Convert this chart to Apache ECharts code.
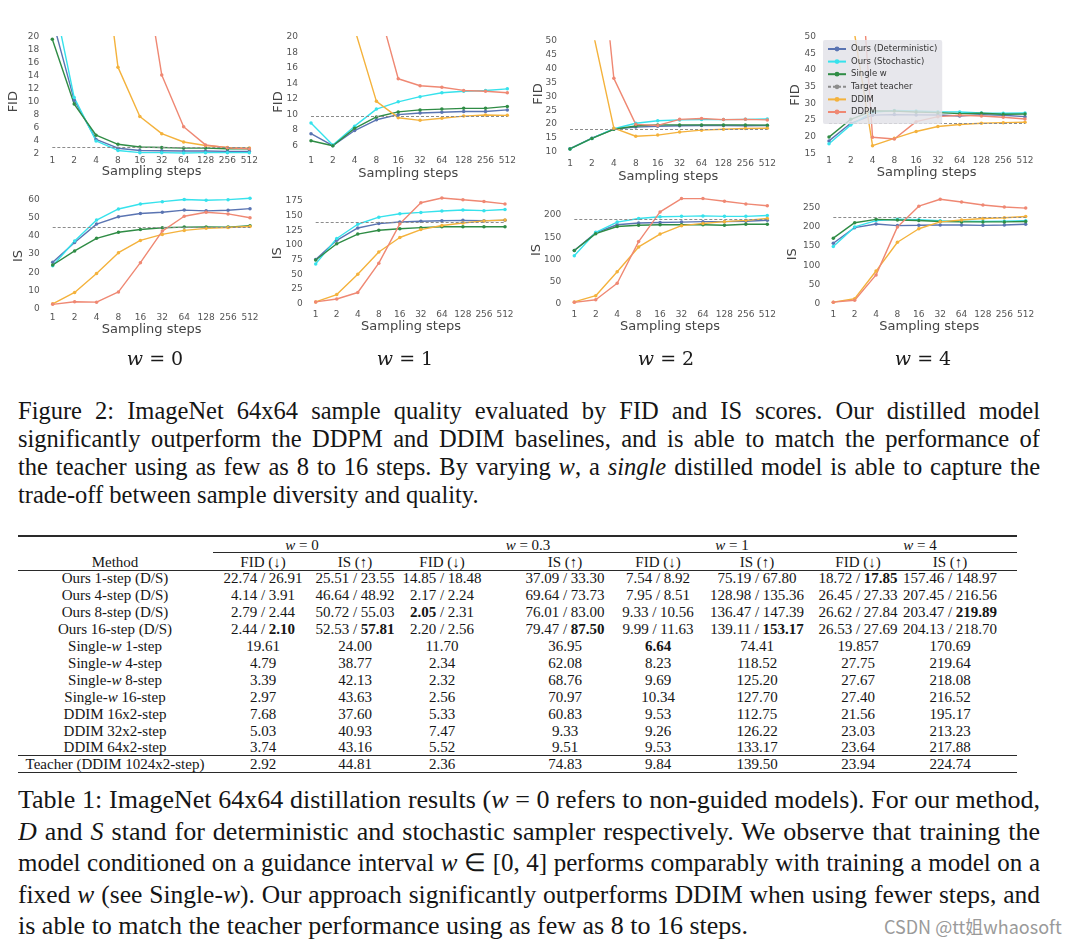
<!DOCTYPE html>
<html><head><meta charset="utf-8">
<script src="https://cdn.jsdelivr.net/npm/echarts@6/dist/echarts.min.js"></script>
<style>
html,body{margin:0;padding:0;background:#fff;}
body{width:1079px;height:948px;position:relative;overflow:hidden;font-family:"Liberation Serif","Times New Roman",serif;color:#151515;}
#chart{position:absolute;left:0;top:0;width:1079px;height:380px;}
.wlab{position:absolute;font-family:"DejaVu Serif",serif;font-size:19px;transform:translate(-50%,-50%);white-space:nowrap;color:#1a1a1a;}
.cap{position:absolute;left:18px;width:1022px;}
.cap div{text-align:justify;text-align-last:justify;overflow:hidden;}
.cap div.last{text-align-last:left;}
.tc{position:absolute;transform:translate(-50%,-50%);white-space:nowrap;font-size:15px;line-height:16px;}
.rule{position:absolute;background:#2a2a2a;}
.wm{position:absolute;font-family:"Noto Sans CJK SC","Noto Sans",sans-serif;font-size:18px;color:#9a9a9a;white-space:nowrap;transform:translateY(-50%);}
</style>
</head><body>
<div id="chart"></div>
<div id="wlabels"></div>
<div class="cap" id="cap1" style="top:397px;font-size:24.5px;line-height:28px;">
<div>Figure 2: ImageNet 64x64 sample quality evaluated by FID and IS scores. Our distilled model</div>
<div>significantly outperform the DDPM and DDIM baselines, and is able to match the performance of</div>
<div>the teacher using as few as 8 to 16 steps. By varying <i>w</i>, a <i>single</i> distilled model is able to capture the</div>
<div class="last">trade-off between sample diversity and quality.</div>
</div>
<div id="table"></div>
<div class="cap" id="cap2" style="top:784px;font-size:26px;line-height:31.5px;">
<div>Table 1: ImageNet 64x64 distillation results (<i>w</i> = 0 refers to non-guided models). For our method,</div>
<div><i>D</i> and <i>S</i> stand for deterministic and stochastic sampler respectively. We observe that training the</div>
<div>model conditioned on a guidance interval <i>w</i> ∈ [0, 4] performs comparably with training a model on a</div>
<div>fixed <i>w</i> (see Single-<i>w</i>). Our approach significantly outperforms DDIM when using fewer steps, and</div>
<div class="last">is able to match the teacher performance using as few as 8 to 16 steps.</div>
</div>
<div class="wm" style="left:884px;top:926px;">CSDN @tt姐whaosoft</div>
<script>
// ---------------- data ----------------
const steps = ['1','2','4','8','16','32','64','128','256','512'];
const seriesNames = ['Ours (Deterministic)','Ours (Stochastic)','Single w','Target teacher','DDIM','DDPM'];
const panelTitles = ['w = 0','w = 1','w = 2','w = 4'];

// FID, w = 0
const fidW0Det    = [22.74, 10.2, 4.14, 2.79, 2.44, 2.40, 2.35, 2.35, 2.30, 2.30];
const fidW0Sto    = [26.91, 10.6, 3.91, 2.44, 2.10, 2.10, 2.05, 2.10, 2.10, 2.10];
const fidW0Single = [19.61, 9.6, 4.79, 3.39, 2.97, 2.90, 2.80, 2.80, 2.70, 2.70];
const fidW0Ddim   = [260, 120, 42, 15.3, 7.68, 5.03, 3.74, 3.20, 2.90, 2.80];
const fidW0Ddpm   = [300, 250, 150, 80, 35, 14.1, 6.1, 3.3, 2.85, 2.7];
// FID, w = 1
const fidW1Det    = [7.54, 6.0, 7.95, 9.33, 9.99, 10.2, 10.3, 10.4, 10.4, 10.6];
const fidW1Sto    = [8.92, 6.1, 8.51, 10.7, 11.63, 12.3, 12.8, 13.0, 13.1, 13.3];
const fidW1Single = [6.64, 6.0, 8.23, 9.69, 10.34, 10.6, 10.7, 10.8, 10.8, 11.05];
const fidW1Ddim   = [150, 60, 21, 11.7, 9.6, 9.26, 9.53, 9.8, 9.95, 9.9];
const fidW1Ddpm   = [200, 150, 80, 24.8, 14.6, 13.7, 13.5, 13.1, 13.0, 12.8];
// FID, w = 2
const fidW2Det    = [11.1, 14.9, 18.2, 18.9, 19.2, 19.4, 19.5, 19.5, 19.4, 19.5];
const fidW2Sto    = [11.0, 14.8, 18.3, 20.3, 21.2, 21.5, 21.6, 21.6, 21.7, 21.8];
const fidW2Single = [11.0, 14.8, 18.1, 19.3, 19.7, 19.7, 19.7, 19.7, 19.7, 19.6];
const fidW2Ddim   = [120, 55, 18.5, 15.6, 16.0, 17.1, 17.8, 18.1, 18.4, 18.5];
const fidW2Ddpm   = [250, 114, 36.5, 19.9, 19.5, 21.7, 22.0, 21.6, 21.7, 21.5];
// FID, w = 4
const fidW4Det    = [18.72, 24.0, 26.45, 26.62, 26.53, 26.5, 26.2, 26.6, 26.4, 26.0];
const fidW4Sto    = [17.85, 23.5, 27.33, 27.84, 27.69, 27.5, 27.4, 27.1, 27.0, 27.1];
const fidW4Single = [19.86, 25.2, 27.75, 27.67, 27.40, 27.2, 26.9, 27.0, 26.7, 26.8];
const fidW4Ddim   = [120, 58, 17.3, 19.5, 21.56, 23.03, 23.64, 24.0, 24.2, 24.3];
const fidW4Ddpm   = [250, 115, 19.8, 19.3, 24.5, 26.0, 26.4, 26.2, 25.8, 25.3];
// IS, w = 0
const isW0Det    = [25.51, 36.5, 46.64, 50.72, 52.53, 53.2, 54.4, 54.0, 54.3, 55.2];
const isW0Sto    = [23.55, 37.3, 48.92, 55.03, 57.81, 59.1, 60.3, 59.9, 60.2, 61.0];
const isW0Single = [24.00, 31.8, 38.77, 42.13, 43.63, 44.6, 45.0, 45.1, 45.0, 45.8];
const isW0Ddim   = [2.5, 8.8, 19.3, 30.8, 37.60, 40.93, 43.16, 44.3, 44.8, 45.3];
const isW0Ddpm   = [2.2, 3.6, 3.4, 9.1, 25.3, 42.8, 51.0, 53.2, 52.3, 50.2];
// IS, w = 1
const isW1Det    = [75.19, 108, 128.98, 136.47, 139.11, 140.5, 141.3, 142, 141.5, 142];
const isW1Sto    = [67.80, 111, 135.36, 147.39, 153.17, 155.5, 158, 159.5, 158.5, 160.5];
const isW1Single = [74.41, 102, 118.52, 125.20, 127.70, 129.5, 131, 131, 131, 131];
const isW1Ddim   = [3, 15.5, 50, 88, 112.75, 126.22, 133.17, 137.5, 141, 142.5];
const isW1Ddpm   = [3, 8, 19, 69, 136, 172, 180, 177, 174, 170];
// IS, w = 2
const isW2Det    = [120, 160, 178, 182, 183, 184, 185, 185, 186, 188];
const isW2Sto    = [108, 161, 184, 192, 196, 197, 198, 197, 197, 199];
const isW2Single = [120, 158, 174, 177, 178, 178, 178, 177, 179, 179];
const isW2Ddim   = [4, 18, 72, 128, 157, 176, 181, 185, 188, 192];
const isW2Ddpm   = [3, 9, 46, 140, 207, 237, 237, 231, 225, 221];
// IS, w = 4
const isW4Det    = [157.46, 198, 207.45, 203.47, 204.13, 205, 205, 204, 205, 207];
const isW4Sto    = [148.97, 200, 216.56, 219.89, 218.70, 216, 215, 214, 215, 216];
const isW4Single = [170.69, 211, 219.64, 218.08, 216.52, 214, 213, 213, 213, 214];
const isW4Ddim   = [4, 13, 85, 160, 195.17, 213.23, 217.88, 222, 224, 227];
const isW4Ddpm   = [4, 9, 75, 200, 254, 272, 265, 257, 252, 249];
// target teacher levels
const teacherFid = [2.92, 9.84, 18.1, 23.94];
const teacherIs  = [44.81, 139.5, 191.5, 224.74];

// table
const tableGroups  = ['w = 0','w = 0.3','w = 1','w = 4'];
const tableHeaders = ['Method','FID (↓)','IS (↑)','FID (↓)','IS (↑)','FID (↓)','IS (↑)','FID (↓)','IS (↑)'];
const tableMethods = ['Ours 1-step (D/S)','Ours 4-step (D/S)','Ours 8-step (D/S)','Ours 16-step (D/S)','Single-w 1-step','Single-w 4-step','Single-w 8-step','Single-w 16-step','DDIM 16x2-step','DDIM 32x2-step','DDIM 64x2-step','Teacher (DDIM 1024x2-step)'];
const tableFidW0  = ['22.74 / 26.91','4.14 / 3.91','2.79 / 2.44','2.44 / **2.10**','19.61','4.79','3.39','2.97','7.68','5.03','3.74','2.92'];
const tableIsW0   = ['25.51 / 23.55','46.64 / 48.92','50.72 / 55.03','52.53 / **57.81**','24.00','38.77','42.13','43.63','37.60','40.93','43.16','44.81'];
const tableFidW03 = ['14.85 / 18.48','2.17 / 2.24','**2.05** / 2.31','2.20 / 2.56','11.70','2.34','2.32','2.56','5.33','7.47','5.52','2.36'];
const tableIsW03  = ['37.09 / 33.30','69.64 / 73.73','76.01 / 83.00','79.47 / **87.50**','36.95','62.08','68.76','70.97','60.83','9.33','9.51','74.83'];
const tableFidW1  = ['7.54 / 8.92','7.95 / 8.51','9.33 / 10.56','9.99 / 11.63','**6.64**','8.23','9.69','10.34','9.53','9.26','9.53','9.84'];
const tableIsW1   = ['75.19 / 67.80','128.98 / 135.36','136.47 / 147.39','139.11 / **153.17**','74.41','118.52','125.20','127.70','112.75','126.22','133.17','139.50'];
const tableFidW4  = ['18.72 / **17.85**','26.45 / 27.33','26.62 / 27.84','26.53 / 27.69','19.857','27.75','27.67','27.40','21.56','23.03','23.64','23.94'];
const tableIsW4   = ['157.46 / 148.97','207.45 / 216.56','203.47 / **219.89**','204.13 / 218.70','170.69','219.64','218.08','216.52','195.17','213.23','217.88','224.74'];

// ---------------- layout / styles ----------------
const colors = ['#5a74b2','#36e2ec','#2f8c45','#8c8c8c','#f4b23c','#ef8873'];
const panels = [
  {grid:{left:52.3,top:36.7,width:197,height:116.6}, min:2,max:20,interval:2,step:2,lo:2, series:[fidW0Det,fidW0Sto,fidW0Single,null,fidW0Ddim,fidW0Ddpm], teacher:teacherFid[0], name:'FID', namePos:[14,101.7], xNamePos:[151.7,171.7], xMargin:3},
  {grid:{left:311,top:36.7,width:196.3,height:116.8}, min:5,max:20,interval:1,step:2,lo:6, series:[fidW1Det,fidW1Sto,fidW1Single,null,fidW1Ddim,fidW1Ddpm], teacher:teacherFid[1], name:'FID', namePos:[279,102], xNamePos:[408.3,173.3], xMargin:3},
  {grid:{left:570,top:41,width:197.3,height:113.5}, min:9,max:50,interval:1,step:5,lo:10, series:[fidW2Det,fidW2Sto,fidW2Single,null,fidW2Ddim,fidW2Ddpm], teacher:teacherFid[2], name:'FID', namePos:[539,94], xNamePos:[668.3,176.7], xMargin:4.3},
  {grid:{left:829,top:36.7,width:196,height:116.6}, min:15,max:50,interval:5,step:5,lo:15, series:[fidW4Det,fidW4Sto,fidW4Single,null,fidW4Ddim,fidW4Ddpm], teacher:teacherFid[3], name:'FID', namePos:[796,95], xNamePos:[926.7,172.7], xMargin:3},
  {grid:{left:52.7,top:196.4,width:197.3,height:111.9}, min:0,max:62,interval:2,step:10,lo:0, series:[isW0Det,isW0Sto,isW0Single,null,isW0Ddim,isW0Ddpm], teacher:teacherIs[0], name:'IS', namePos:[19,256], xNamePos:[151.7,330], xMargin:4.5},
  {grid:{left:315.7,top:195.1,width:189.3,height:111.5}, min:-5,max:185,interval:5,step:25,lo:0, series:[isW1Det,isW1Sto,isW1Single,null,isW1Ddim,isW1Ddpm], teacher:teacherIs[1], name:'IS', namePos:[277.5,253.3], xNamePos:[411,326.7], xMargin:3.9},
  {grid:{left:574.3,top:195.05,width:193,height:110.85}, min:-5,max:245,interval:5,step:50,lo:0, series:[isW2Det,isW2Sto,isW2Single,null,isW2Ddim,isW2Ddpm], teacher:teacherIs[2], name:'IS', namePos:[536.7,250], xNamePos:[670,326.7], xMargin:4.6},
  {grid:{left:833.3,top:196.2,width:192.4,height:109.4}, min:-5,max:280,interval:5,step:50,lo:0, series:[isW4Det,isW4Sto,isW4Single,null,isW4Ddim,isW4Ddpm], teacher:teacherIs[3], name:'IS', namePos:[793,254.3], xNamePos:[929.3,326.7], xMargin:4.9}
];

const grids=[], xAxes=[], yAxes=[], series=[], graphics=[];
panels.forEach((p,i)=>{
  grids.push(Object.assign({containLabel:false}, p.grid));
  xAxes.push({type:'category', gridIndex:i, data:steps, boundaryGap:false,
    axisLine:{show:false}, axisTick:{show:false}, splitLine:{show:false},
    axisLabel:{interval:0, fontSize:9, fontFamily:'DejaVu Sans', color:'#555', margin:p.xMargin}});
  yAxes.push({type:'value', gridIndex:i, min:p.min, max:p.max, interval:p.interval,
    axisLine:{show:false}, axisTick:{show:false}, splitLine:{show:false},
    axisLabel:{fontSize:9, fontFamily:'DejaVu Sans', color:'#555', margin:13,
      formatter:(v)=>{ const r=Math.round(v*1000)/1000; return (r>=p.lo && Math.abs(r % p.step)<1e-6) ? String(r) : ''; }}});
  seriesNames.forEach((nm,k)=>{
    if(k===3){
      series.push({type:'line', name:nm, xAxisIndex:i, yAxisIndex:i, data:[], symbol:'none',
        lineStyle:{color:colors[3], width:1, type:[3,2]}, itemStyle:{color:colors[3]},
        markLine:{silent:true, symbol:'none', label:{show:false}, animation:false,
          lineStyle:{color:colors[3], width:1, type:[3,2]}, emphasis:{disabled:true},
          data:[{yAxis:p.teacher}]}, z:2});
    } else {
      series.push({type:'line', name:nm, xAxisIndex:i, yAxisIndex:i, data:p.series[k],
        symbol:'circle', symbolSize:3.5, showSymbol:true, clip:true,
        lineStyle:{color:colors[k], width:1.4}, itemStyle:{color:colors[k]},
        emphasis:{disabled:true}, z:2});
    }
  });
  graphics.push({type:'text', x:p.namePos[0], y:p.namePos[1], rotation:Math.PI/2, silent:true,
    style:{text:p.name, fontSize:13, fontFamily:'DejaVu Sans', fill:'#444', align:'center', verticalAlign:'middle'}});
  graphics.push({type:'text', x:p.xNamePos[0], y:p.xNamePos[1], silent:true,
    style:{text:'Sampling steps', fontSize:13, fontFamily:'DejaVu Sans', fill:'#444', align:'center', verticalAlign:'middle'}});
});

const chart = echarts.init(document.getElementById('chart'));
chart.setOption({
  animation:false,
  backgroundColor:'#fff',
  grid:grids, xAxis:xAxes, yAxis:yAxes, series:series, graphic:graphics,
  legend:{data:seriesNames, orient:'vertical', left:823, top:40, padding:[4,5,7,4],
    backgroundColor:'rgba(226,226,232,0.82)', borderRadius:2,
    itemWidth:18, itemHeight:6, itemGap:2.6, selectedMode:false,
    textStyle:{fontSize:8.5, fontFamily:'DejaVu Sans', color:'#333', lineHeight:10}, z:10}
});

// w labels under the charts
const wPos = [[155,358],[405,358],[666,358],[923,358]];
const wl = document.getElementById('wlabels');
panelTitles.forEach((t,i)=>{
  const d=document.createElement('div'); d.className='wlab';
  d.style.left=wPos[i][0]+'px'; d.style.top=wPos[i][1]+'px';
  d.innerHTML = t.replace(/^w/,'<i>w</i>');
  wl.appendChild(d);
});

// table
const tbl = document.getElementById('table');
const colX = [115,263,355,442,565,658,757,858,950];
const rowY = [578,595,612,629,646,663,680,697,713.5,730.5,747.3,764];
const groupX = [302,528,732,920];
const tableRight = 1017;
function cell(html,x,y){const d=document.createElement('div');d.className='tc';d.style.left=x+'px';d.style.top=y+'px';d.innerHTML=html;tbl.appendChild(d);}
function rule(x1,x2,y,h){const d=document.createElement('div');d.className='rule';d.style.left=x1+'px';d.style.width=(x2-x1)+'px';d.style.top=(y-h/2)+'px';d.style.height=h+'px';tbl.appendChild(d);}
const fmt = s=>s.replace(/\*\*(.+?)\*\*/g,'<b>$1</b>').replace('Single-w','Single-<i>w</i>');
rule(18,tableRight,536,1.8);
tableGroups.forEach((g,i)=>cell(g.replace(/^w/,'<i>w</i>'),groupX[i],544.5));
rule(213,tableRight,552.5,1);
tableHeaders.forEach((h,i)=>cell(h,colX[i],561.5));
rule(18,tableRight,570,1);
const cols=[tableMethods,tableFidW0,tableIsW0,tableFidW03,tableIsW03,tableFidW1,tableIsW1,tableFidW4,tableIsW4];
rowY.forEach((y,r)=>{ cols.forEach((c,ci)=>cell(fmt(c[r]),colX[ci],y)); });
rule(18,tableRight,755.5,1);
rule(18,tableRight,772.5,1.8);

// keep every caption line on one line
document.querySelectorAll('.cap div').forEach(el=>{
  const lh=parseFloat(getComputedStyle(el).lineHeight);
  let fs=parseFloat(getComputedStyle(el).fontSize);
  while(el.offsetHeight>lh*1.4 && fs>12){fs-=0.25;el.style.fontSize=fs+'px';}
});
</script>
</body></html>
